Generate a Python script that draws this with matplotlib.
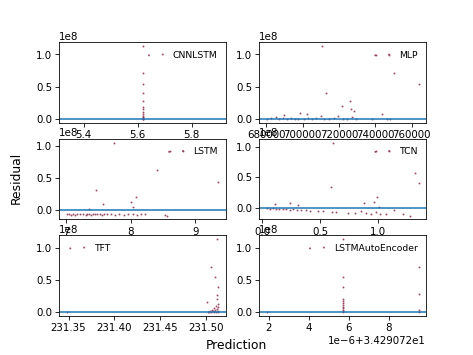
import numpy as np
import matplotlib
matplotlib.use("Agg")
import matplotlib.pyplot as plt

# residuals are given in units of 1e8
model_names = ["CNNLSTM", "MLP", "LSTM", "TCN", "TFT", "LSTMAutoEncoder"]
legend_locs = ["upper right", "upper right", "upper right", "upper right", "upper left", "upper right"]

cnnlstm_pred = [5.618, 5.618, 5.618, 5.618, 5.618, 5.618, 5.618, 5.618,
                5.618, 5.618, 5.618, 5.618, 5.618, 5.618, 5.618]
cnnlstm_res = [1.128, 0.706, 0.541, 0.407, 0.278, 0.19, 0.15, 0.113,
               0.077, 0.046, 0.026, 0.012, 0.005, 0.0, -0.004]

mlp_pred = [710500, 740200, 747500, 750100, 763900, 712700, 721500, 726300,
            726800, 728500, 743900, 698400, 689500, 709800, 702400, 719500,
            727400, 748000, 680300, 682500, 685500, 687000, 689000, 691500,
            693500, 695500, 697500, 700500, 703000, 705000, 707500, 712000,
            714500, 717000, 722000, 724500, 729500, 738000, 746500]
mlp_res = [1.128, 0.994, 0.994, 0.706, 0.541, 0.397, 0.196, 0.278,
           0.159, 0.128, 0.077, 0.088, 0.066, 0.046, 0.077, 0.036,
           0.026, -0.005, -0.002, 0.005, 0.026, -0.006, 0.01, -0.004,
           0.008, -0.007, 0.004, -0.003, 0.012, -0.005, 0.006, -0.004,
           0.002, 0.009, -0.006, 0.004, -0.003, 0.002, -0.004]

lstm_pred = [7.749, 8.612, 8.81, 8.406, 9.36, 7.465, 7.578, 8.08,
             8.008, 8.04, 7.35, 7.01, 7.04, 7.07, 7.10, 7.13, 7.17,
             7.21, 7.26, 7.30, 7.33, 7.36, 7.39, 7.42, 7.45, 7.48,
             7.52, 7.55, 7.58, 7.63, 7.70, 7.76, 7.82, 7.90, 7.96,
             8.03, 8.10, 8.16, 8.22, 8.53, 8.56]
lstm_res = [1.047, 0.918, 0.918, 0.622, 0.44, 0.311, 0.093, 0.197,
            0.12, 0.042, 0.01, -0.07, -0.068, -0.072, -0.066, -0.074, -0.07,
            -0.065, -0.06, -0.072, -0.069, -0.062, -0.075, -0.07, -0.066, -0.068,
            -0.06, -0.073, -0.067, -0.07, -0.064, -0.072, -0.068, -0.074, -0.07,
            -0.066, -0.071, -0.063, -0.069, -0.085, -0.09]

tcn_pred = [0.612, 0.986, 1.095, 1.319, 1.353, 0.592, 0.995, 0.97,
            0.877, 1.009, 0.115, 0.245, 0.31, 0.042, 0.07, 0.09, 0.12,
            0.15, 0.18, 0.21, 0.24, 0.27, 0.30, 0.34, 0.38, 0.41,
            0.483, 0.526, 0.607, 0.635, 0.741, 0.80, 0.857, 0.90,
            0.937, 0.98, 1.015, 1.072, 1.138, 1.216, 1.282]
tcn_res = [1.065, 0.93, 0.93, 0.576, 0.413, 0.338, 0.175, 0.103,
           0.087, 0.011, 0.065, 0.077, 0.044, -0.005, -0.012, -0.008, -0.02,
           -0.015, -0.025, -0.018, -0.03, -0.022, -0.035, -0.028, -0.04, -0.045,
           -0.049, -0.049, -0.06, -0.065, -0.077, -0.082, -0.049, -0.087,
           -0.098, -0.07, -0.093, -0.103, -0.033, -0.103, -0.128]

tft_pred = [231.348, 231.512, 231.506, 231.5105, 231.513, 231.512, 231.512,
            231.5015, 231.513, 231.511, 231.514, 231.509, 231.512, 231.507,
            231.510, 231.505, 231.513, 231.508, 231.503, 231.511, 231.506,
            231.514, 231.509, 231.504]
tft_res = [0.0, 1.134, 0.704, 0.549, 0.393, 0.269, 0.207,
           0.165, 0.124, 0.095, 0.08, 0.06, 0.05, 0.04,
           0.03, 0.02, 0.02, 0.012, 0.008, 0.005, 0.003,
           0.002, 0.0, 0.0]

ae_pred = [34.2907257, 34.2907257, 34.2907257, 34.2907257, 34.2907257,
           34.2907257, 34.2907257, 34.2907257, 34.2907257, 34.2907257,
           34.2907257, 34.2907257, 34.2907295, 34.2907295, 34.2907295,
           34.2907295, 34.2907219]
ae_res = [1.134, 0.549, 0.398, 0.207, 0.17, 0.14, 0.11, 0.08,
          0.06, 0.04, 0.02, 0.0, 0.709, 0.28, 0.036, 0.01, 0.0]

preds = [cnnlstm_pred, mlp_pred, lstm_pred, tcn_pred, tft_pred, ae_pred]
resids = [cnnlstm_res, mlp_res, lstm_res, tcn_res, tft_res, ae_res]

fig, axes = plt.subplots(3, 2, figsize=(6.4, 4.8), dpi=74)

for ax, name, x, r, loc in zip(axes.flat, model_names, preds, resids, legend_locs):
    ax.scatter(x, np.array(r) * 1e8, s=1, color="#8b3050", alpha=0.7, label=name)
    ax.axhline(0)
    ax.legend(loc=loc, frameon=False, scatterpoints=2, fontsize=9, handlelength=2.1)

fig.supxlabel("Prediction")
fig.supylabel("Residual")

plt.savefig("out.png", dpi=74)
